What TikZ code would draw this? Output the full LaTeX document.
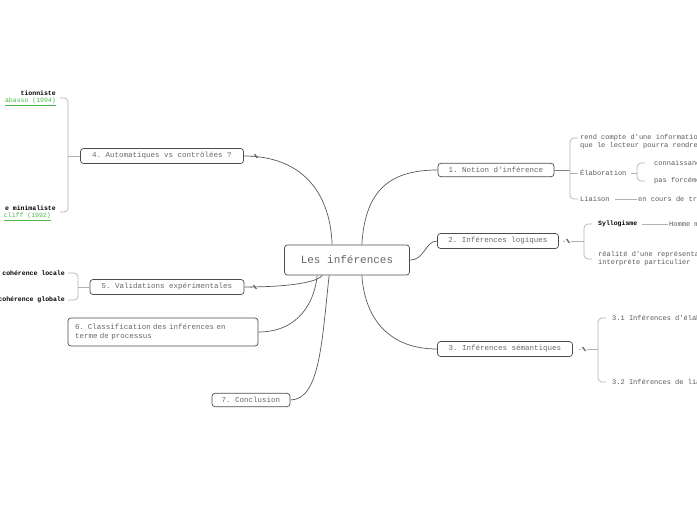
\documentclass[tikz,border=0pt]{standalone}
\usepackage{fontspec}
\setmonofont{Liberation Mono}
\begin{document}
\begin{tikzpicture}[x=1pt,y=-1pt,
  every node/.style={font=\ttfamily\fontsize{7}{8}\selectfont,text=black!65,inner sep=1pt},
  topic/.style={draw=black!70,rounded corners=3pt,line width=0.7pt,inner xsep=6pt,inner ysep=4pt,font=\ttfamily\fontsize{7.5}{9}\selectfont,text=black!60},
  br/.style={draw=black!30,line width=0.7pt,rounded corners=4pt},
  con/.style={draw=black!65,line width=0.7pt},
  leaf/.style={anchor=west},
  leafr/.style={anchor=east},
  bold/.style={font=\ttfamily\bfseries\fontsize{6.5}{8}\selectfont,text=black},
  lnk/.style={font=\ttfamily\fontsize{6.5}{8}\selectfont,text=green!60!black!70,anchor=east}]
\useasboundingbox (0,0) rectangle (697,520);
\clip (0,0) rectangle (697,520);
\node[topic,minimum width=125pt,minimum height=30pt,font=\ttfamily\fontsize{11}{13}\selectfont] (c) at (347,260) {Les inférences};
\node[topic,minimum width=116pt] (n1) at (496,170) {1. Notion d'inférence};
\node[topic,minimum width=121pt] (n2) at (498,241) {2. Inférences logiques};
\node[topic,minimum width=135pt] (n3) at (505,349) {3. Inférences sémantiques};
\node[topic,minimum width=163pt] (n4) at (162,156) {4. Automatiques vs contrôlées ?};
\node[topic,minimum width=154pt] (n5) at (167,287) {5. Validations expérimentales};
\node[topic,minimum width=190pt,minimum height=28pt,align=left,text width=176pt] (n6) at (163,332) {6. Classification des inférences en\\terme de processus};
\node[topic,minimum width=78pt] (n7) at (251,400) {7. Conclusion};
% connectors
\draw[con] (c.north east) ++(-48,0) .. controls (365,190) and (390,170) .. (n1.west);
\draw[con] (c.east) .. controls (425,260) and (425,241) .. (n2.west);
\draw[con] (c.south east) ++(-48,0) .. controls (365,320) and (390,349) .. (n3.west);
\draw[con] (c.north west) ++(48,0) .. controls (330,190) and (300,156) .. (n4.east);
\draw[con] (c.south west) ++(38,0) .. controls (320,280) and (300,287) .. (n5.east);
\draw[con] (c.south west) ++(33,0) .. controls (315,300) and (300,332) .. (n6.east);
\draw[con] (c.south west) ++(45,0) .. controls (322,340) and (320,400) .. (n7.east);
% collapse icons
\foreach \p in {(567,241),(583,349),(255,156),(254,287)}{
  \draw[black!60,line width=0.5pt] \p ++(-4,0) -- ++(2,0) \p ++(-1,-2) -- ++(3,4) \p ++(0,-2) -- ++(3,4);}
% node 1 children
\draw[con,draw=black!50] (n1.east) -- (570,170);
\draw[br] (578,138) -- (570,138) -- (570,199) -- (578,199);
\draw[br] (570,173) -- (578,173);
\node[leaf,align=left] (a1) at (579,142) {rend compte d'une information\\que le lecteur pourra rendre};
\node[leaf] (a2) at (579,173) {Élaboration};
\draw[br] (a2.east) ++(3,0) -- (637,173);
\draw[br] (645,163) -- (637,163) -- (637,181) -- (645,181);
\node[leaf] (a3) at (653,163) {connaissances};
\node[leaf] (a4) at (653,181) {pas forcément};
\node[leaf] (a5) at (579,199) {Liaison};
\node[leaf] (a6) at (637,199) {en cours de traitement};
\draw[br] (a5.east) ++(4,0) -- (a6.west);
% node 2 children
\draw[br] (571,241) -- (584,241);
\draw[br] (592,224) -- (584,224) -- (584,259) -- (592,259);
\node[leaf,bold] (b1) at (597,224) {Syllogisme};
\node[leaf] (b2) at (668,224) {Homme mortel};
\draw[br] (b1.east) ++(4,0) -- (b2.west);
\node[leaf,align=left] (b3) at (597,259) {réalité d'une représentation\\interprète particulier};
% node 3 children
\draw[br] (587,349) -- (598,349);
\draw[br] (606,318) -- (598,318) -- (598,382) -- (606,382);
\node[leaf] (d1) at (611,318) {3.1 Inférences d'élaboration};
\node[leaf] (d2) at (611,382) {3.2 Inférences de liaison};
% node 4 children
\draw[br] (n4.west) -- (68,156);
\draw[br] (60,98) -- (68,98) -- (68,212) -- (60,212);
\node[leafr,bold] (e1) at (57,93) {tionniste};
\node[lnk] (e2) at (57,102) {\underline{abasso (1994)}};
\node[leafr,bold] (e3) at (57,208) {e minimaliste};
\node[lnk] (e4) at (52,217) {\underline{cliff (1992)}};
% node 5 children
\draw[br] (n5.west) -- (78,287);
\draw[br] (68,273) -- (78,273) -- (78,300) -- (68,300);
\node[leafr,bold] (f1) at (66,273) {cohérence locale};
\node[leafr,bold] (f2) at (66,300) {cohérence globale};
\end{tikzpicture}
\end{document}
